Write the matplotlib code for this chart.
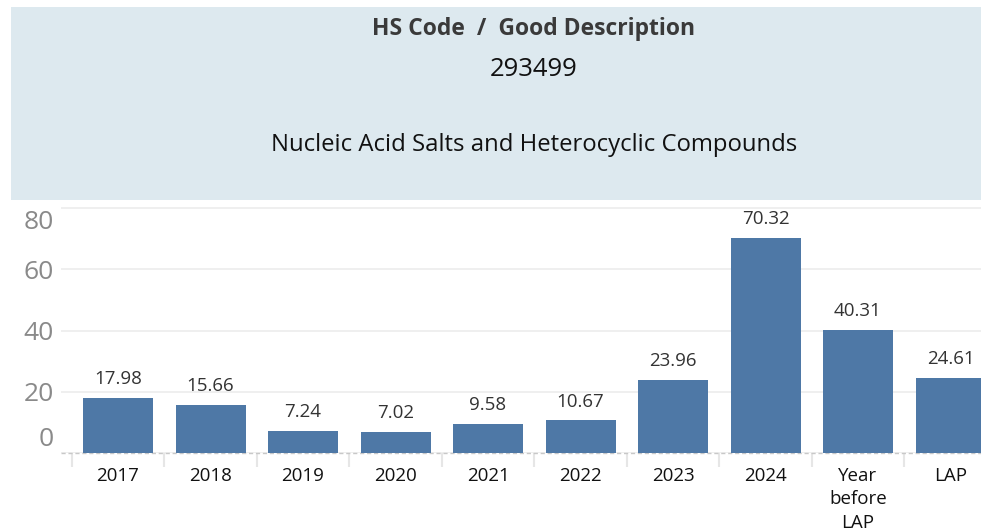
import matplotlib.pyplot as plt
import matplotlib.transforms as mtransforms
from matplotlib.patches import Rectangle

categories = ['2017', '2018', '2019', '2020', '2021', '2022', '2023', '2024',
              'Year\nbefore\nLAP', 'LAP']
values = [17.98, 15.66, 7.24, 7.02, 9.58, 10.67, 23.96, 70.32, 40.31, 24.61]
yticks = [0, 20, 40, 60, 80]

title_top = 'HS Code  /  Good Description'
hs_code = '293499'
description = 'Nucleic Acid Salts and Heterocyclic Compounds'

plt.rcParams['font.family'] = ['Open Sans', 'DejaVu Sans']

W, H = 981, 531
fig = plt.figure(figsize=(W / 100, H / 100), dpi=100)

# header box
fig.patches.append(Rectangle((11 / W, 1 - 200 / H), 1, 193 / H,
                             transform=fig.transFigure, facecolor='#dde9ef',
                             edgecolor='none', zorder=0))
fig.text(534 / W, 1 - 29 / H, title_top, ha='center', va='center',
         fontsize=16.5, fontweight='bold', color='#3a3a3a')
fig.text(534 / W, 1 - 70 / H, hs_code, ha='center', va='center',
         fontsize=18.5, color='#111111')
fig.text(534 / W, 1 - 145 / H, description, ha='center', va='center',
         fontsize=17.2, color='#111111')

# plot area: left 61px, right 981px, top 205px, bottom 453px
step = 92.5
ax = fig.add_axes([61 / W, 1 - 453 / H, 920 / W, 248 / H])
ppu = 3.06
ax.set_ylim(0, 248 / ppu)
ax.set_xlim(-(118 - 61) / step, (981 - 118) / step)

x = list(range(len(categories)))
ax.bar(x, values, width=70 / step, color='#4e78a6', zorder=3)
for xi, v in zip(x, values):
    ax.annotate(f'{v:.2f}', (xi, v), xytext=(0, 7), textcoords='offset points',
                ha='center', va='bottom', fontsize=13.5, color='#333333', zorder=4)

for s in ax.spines.values():
    s.set_visible(False)
ax.axhline(0, color='#c8c8c8', lw=1, ls=(0, (3, 2)), zorder=2, clip_on=False)

ax.set_yticks(yticks)
ax.set_yticklabels([str(t) for t in yticks], fontsize=19, color='#8a8a8a')
ax.tick_params(axis='y', length=0, pad=5)
ax.grid(axis='y', color='#ececec', lw=1.2, zorder=0)
ax.set_axisbelow(True)
offsets = {0: 16, 80: -11}
for lab, t in zip(ax.get_yticklabels(), yticks):
    dy = offsets.get(t, 0)
    if dy:
        lab.set_transform(lab.get_transform() +
                          mtransforms.ScaledTranslation(0, dy / 100, fig.dpi_scale_trans))

ax.set_xticks(x)
ax.set_xticklabels(categories, fontsize=13.5, color='#111111', fontweight='medium',
                   linespacing=1.4)
ax.tick_params(axis='x', length=0, pad=10)
ax.set_xticks([i - 0.5 for i in range(len(categories))], minor=True)
ax.tick_params(axis='x', which='minor', length=10, color='#e6e6e6', width=1.5)

fig.savefig('out.png', dpi=100)
